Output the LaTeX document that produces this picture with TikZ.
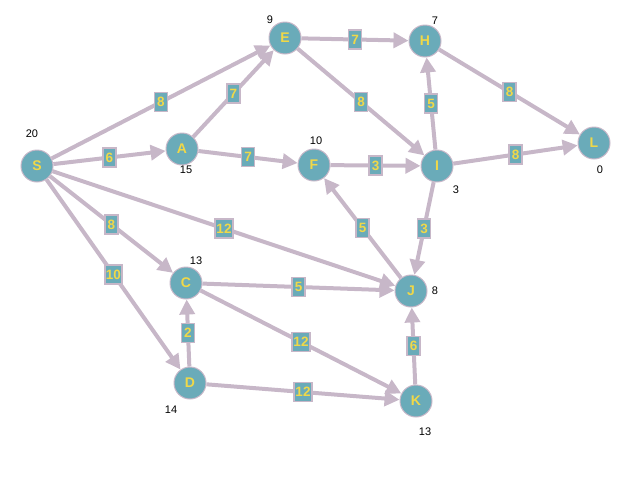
\documentclass[tikz,border=0pt]{standalone}
\usepackage{fontspec}
\setmainfont{Liberation Sans}
\usetikzlibrary{arrows.meta}
\definecolor{edgec}{HTML}{C7B7C8}
\definecolor{nodec}{HTML}{6AABB9}
\definecolor{txtc}{HTML}{F0D848}
\tikzset{
  vtx/.style={circle, fill=nodec, draw=edgec, line width=1pt, minimum size=32pt, inner sep=0pt, text=txtc, font=\bfseries\fontsize{14}{14}\selectfont},
  edg/.style={draw=edgec, line width=4pt, -{Triangle[length=15pt,width=15pt]}},
  lbl/.style={fill=nodec, draw=edgec, line width=1.8pt, text=txtc, inner sep=1.2pt, minimum height=19pt, minimum width=13pt, font=\bfseries\fontsize{13.5}{13.5}\selectfont},
  num/.style={font=\fontsize{11}{11}\selectfont, text=black, inner sep=0pt}
}
\begin{document}
\begin{tikzpicture}[x=1pt,y=-1pt]
\useasboundingbox (0,0) rectangle (642,480);
\node[vtx] (S) at (37,166) {S};
\node[vtx] (A) at (182,149) {A};
\node[vtx] (E) at (285,38) {E};
\node[vtx] (H) at (425,41) {H};
\node[vtx] (F) at (314,165) {F};
\node[vtx] (I) at (437,166) {I};
\node[vtx] (L) at (594,143) {L};
\node[vtx] (C) at (186,283) {C};
\node[vtx] (J) at (411,291) {J};
\node[vtx] (D) at (190,383) {D};
\node[vtx] (K) at (416,401) {K};

\node[num] (nS) at (32,134) {20};
\node[num] (nA) at (186,170) {15};
\node[num] (nE) at (270,20) {9};
\node[num] (nH) at (435,21) {7};
\node[num] (nF) at (316,141) {10};
\node[num] (nI) at (456,190) {3};
\node[num] (nL) at (600,170) {0};
\node[num] (nC) at (196,261) {13};
\node[num] (nJ) at (435,291) {8};
\node[num] (nD) at (171,410) {14};
\node[num] (nK) at (425,432) {13};

\draw[edg] (S) -- node[lbl] (l1) {8} (E);
\draw[edg] (S) -- node[lbl] (l2) {6} (A);
\draw[edg] (A) -- node[lbl] (l3) {7} (E);
\draw[edg] (A) -- node[lbl] (l4) {7} (F);
\draw[edg] (E) -- node[lbl] (l5) {7} (H);
\draw[edg] (E) -- node[lbl] (l6) {8} (I);
\draw[edg] (I) -- node[lbl] (l7) {5} (H);
\draw[edg] (H) -- node[lbl] (l8) {8} (L);
\draw[edg] (F) -- node[lbl] (l9) {3} (I);
\draw[edg] (I) -- node[lbl] (l10) {8} (L);
\draw[edg] (I) -- node[lbl] (l11) {3} (J);
\draw[edg] (J) -- node[lbl] (l12) {5} (F);
\draw[edg] (S) -- node[lbl] (l13) {12} (J);
\draw[edg] (S) -- node[lbl] (l14) {8} (C);
\draw[edg] (S) -- node[lbl] (l15) {10} (D);
\draw[edg] (C) -- node[lbl] (l16) {5} (J);
\draw[edg] (C) -- node[lbl] (l17) {12} (K);
\draw[edg] (D) -- node[lbl] (l18) {2} (C);
\draw[edg] (D) -- node[lbl] (l19) {12} (K);
\draw[edg] (K) -- node[lbl] (l20) {6} (J);
\end{tikzpicture}
\end{document}
